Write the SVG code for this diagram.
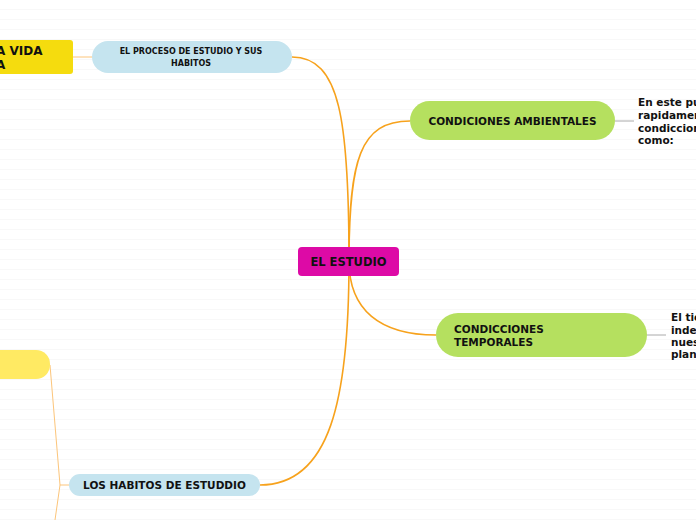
<svg xmlns="http://www.w3.org/2000/svg" width="696" height="520" viewBox="0 0 696 520">
<defs>
<pattern id="bg" width="696" height="10" patternUnits="userSpaceOnUse"><rect width="696" height="10" fill="#fff"/><line x1="0" y1="9.5" x2="696" y2="9.5" stroke="#f8f8f8"/></pattern>
<style>
text{font-family:"DejaVu Sans",Verdana,sans-serif;font-weight:bold;fill:#111}
.s{font-size:8px}.m{font-size:10.5px}.l{font-size:12px}
.c{fill:none;stroke:#f7a21c;stroke-width:1.6}
.t{fill:none;stroke:#fcc57a;stroke-width:1}
.g{fill:none;stroke:#aaa;stroke-width:1}
</style>
</defs>
<rect width="696" height="520" fill="url(#bg)"/>
<g id="connectors">
<path class="c" d="M349,261 C349,120 340,57 292,57"/>
<path class="c" d="M349,261 C349,160 360,121 410,121"/>
<path class="c" d="M349,261 C349,310 380,335 436,335"/>
<path class="c" d="M349,261 C349,400 330,485 260,485"/>
<path class="t" d="M73,57 L93,57"/>
<path class="t" d="M50,365 L60,485 L55,520 M60,485 L69,485"/>
<path class="g" d="M615,121 L634,121"/>
<path class="g" d="M647,335 L666,335"/>
</g>
<g id="center"><rect x="298" y="247" width="101" height="29" rx="4" fill="#dd0aa6"/><text class="m" x="348.5" y="266" text-anchor="middle" style="font-size:11.5px">EL ESTUDIO</text></g>
<g id="proceso"><rect x="92" y="41" width="200" height="32" rx="16" fill="#c5e4ef"/><text class="s" x="191" y="54" text-anchor="middle">EL PROCESO DE ESTUDIO Y SUS</text><text class="s" x="191" y="66" text-anchor="middle">HABITOS</text></g>
<g id="vida"><rect x="-10" y="40" width="83" height="34" rx="3" fill="#f5dc0e"/><text class="l" x="-4" y="55">A VIDA</text><text class="l" x="-4" y="69">A</text></g>
<g id="ambientales"><rect x="410" y="101" width="205" height="39" rx="19.5" fill="#b5e05f"/><text class="m" x="512.5" y="125" text-anchor="middle">CONDICIONES AMBIENTALES</text></g>
<g id="amb-text"><text class="m" x="638" y="106">En este pu</text><text class="m" x="638" y="119">rapidamen</text><text class="m" x="638" y="132">condiccion</text><text class="m" x="638" y="144">como:</text></g>
<g id="temporales"><rect x="436" y="313" width="211" height="44" rx="22" fill="#b5e05f"/><text class="m" x="454" y="333">CONDICCIONES</text><text class="m" x="454" y="346">TEMPORALES</text></g>
<g id="temp-text"><text class="m" x="671" y="321">El tie</text><text class="m" x="671" y="334">inde</text><text class="m" x="671" y="346">nues</text><text class="m" x="671" y="358">plan</text></g>
<g id="yellow"><rect x="-20" y="350" width="70" height="29" rx="14" fill="#ffea63"/></g>
<g id="habitos"><rect x="69" y="474" width="191" height="22" rx="11" fill="#c5e4ef"/><text class="m" x="164.5" y="489" text-anchor="middle">LOS HABITOS DE ESTUDDIO</text></g>
</svg>
